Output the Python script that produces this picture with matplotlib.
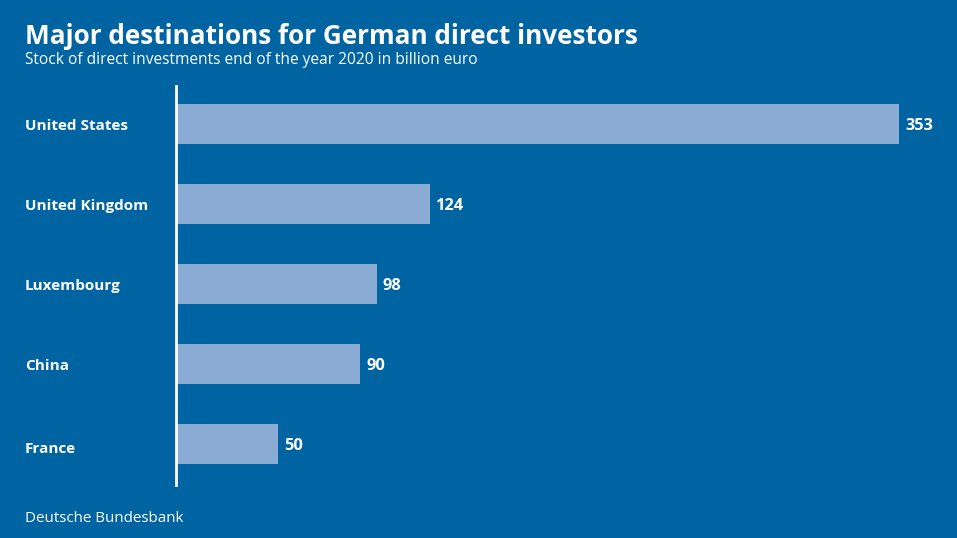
import matplotlib
matplotlib.use("Agg")
import matplotlib.pyplot as plt

countries = ["United States", "United Kingdom", "Luxembourg", "China", "France"]
values = [353, 124, 98, 90, 50]

BG = "#0064a3"
BAR = "#8aabd3"
plt.rcParams['font.family'] = ['Open Sans', 'DejaVu Sans']

W, H = 957, 538
fig = plt.figure(figsize=(W / 100, H / 100), dpi=100, facecolor=BG)

# axes placed in pixel terms
left, right, top, bottom = 176, 957, 86, 485
ax = fig.add_axes([left / W, 1 - bottom / H, (right - left) / W, (bottom - top) / H])
ax.set_facecolor(BG)

ypos = list(range(len(countries)))
ax.barh(ypos, values, height=0.5, color=BAR, edgecolor="none")
ax.set_xlim(0, (right - left) / 2.048)
ax.set_ylim(4.5125, -0.475)

for s in ["top", "right", "bottom"]:
    ax.spines[s].set_visible(False)
ax.spines["left"].set_color("white")
ax.spines["left"].set_linewidth(2)
ax.set_xticks([])
ax.set_yticks([])

for y, v, name in zip(ypos, values, countries):
    ax.text(v + 3.0, y + 0.02, str(v), color="white", fontsize=11.8, fontweight="bold",
            va="center", ha="left")
    fig.text(25 / W, 1 - (125 + 80 * y + (4 if y == 4 else 1)) / H, name, color="white",
             fontsize=11, fontweight="bold", va="center", ha="left")

fig.text(25 / W, 1 - 36 / H, "Major destinations for German direct investors",
         color="white", fontsize=18.8, fontweight="bold", va="center", ha="left")
fig.text(25 / W, 1 - 60 / H, "Stock of direct investments end of the year 2020 in billion euro",
         color="white", fontsize=11.2, va="center", ha="left")
fig.text(25 / W, 1 - 519 / H, "Deutsche Bundesbank", color="white", fontsize=10.9,
         va="center", ha="left")

fig.savefig("out.png", dpi=100, facecolor=BG)
